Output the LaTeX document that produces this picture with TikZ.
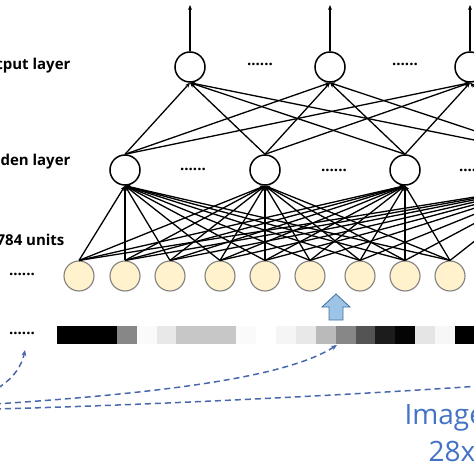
\documentclass[tikz,border=0pt]{standalone}
\usepackage{fontspec}
\setmainfont{Open Sans}
\usetikzlibrary{arrows.meta}
\definecolor{unitfill}{HTML}{FFF2CC}
\definecolor{unitdraw}{HTML}{808080}
\definecolor{arrfill}{HTML}{9DC3E6}
\definecolor{arrdraw}{HTML}{41719C}
\definecolor{linkblue}{HTML}{4A68AE}
\definecolor{textblue}{HTML}{4472C4}
\tikzset{
  neuron/.style={circle, draw=black, line width=1.5pt, fill=white, minimum size=30pt, inner sep=0pt},
  pixunit/.style={circle, draw=unitdraw, line width=1.1pt, fill=unitfill, minimum size=30pt, inner sep=0pt},
  wire/.style={line width=1.3pt, -{Stealth[length=5pt,width=4pt]}},
  blink/.style={linkblue, line width=1.5pt, dash pattern=on 6pt off 4pt, -{Stealth[length=6pt,width=5pt]}},
  layerlabel/.style={anchor=east, font=\bfseries\fontsize{15}{17}\selectfont},
  dots/.style={font=\bfseries\fontsize{15}{17}\selectfont}
}
\begin{document}
\begin{tikzpicture}[x=1pt,y=-1pt]
    \useasboundingbox (0,0) rectangle (474,474);
    \clip (0,0) rectangle (474,474);
    % labels on the left
    \node[layerlabel] (lout) at (74,66) {Output layer};
    \node[layerlabel] (lhid) at (74,162) {Hidden layer};
    \node[layerlabel] (lunits) at (68,240) {784 units};
    \node[dots] (idots) at (22,274) {......};
    \node[dots] (sdots) at (22,333) {......};
    % layers
    \foreach \x [count=\i] in {79,125,170,220,265,310,360,405,450}
        \node[pixunit] (in\i) at (\x,276) {};
    \foreach \x [count=\j] in {125,265,405,545}
        \node[neuron] (h\j) at (\x,170) {};
    \foreach \x [count=\k] in {190,330,470}{
        \node[neuron] (o\k) at (\x,67) {};
        \coordinate (top\k) at (\x,5);
        \draw[wire] (o\k.north) -- (top\k);
    }
    \node[dots] (hdots1) at (193,169) {......};
    \node[dots] (hdots2) at (334,170) {......};
    \node[dots] (hdots3) at (472,170) {......};
    \node[dots] (odots1) at (260,64) {......};
    \node[dots] (odots2) at (405,64) {......};
    % connections
    \foreach \i in {1,...,9}
        \foreach \j in {1,...,4}
            \draw[wire] (in\i.north) -- (h\j.south);
    \foreach \j in {1,...,4}
        \foreach \k in {1,2,3}
            \draw[wire] (h\j.north) -- (o\k.south);
    % pixel strip
    \foreach \s [count=\c from 0] in {100,100,100,47,2,9,22,22,22,2,0,4,9,27,47,67,89,98,10,3,100}
        \fill[black!\s] ({57+19.9*\c},326) rectangle ++(19.9,18);
    \filldraw[fill=arrfill, draw=arrdraw, line width=0.8pt] (329,320) -- (343,320) -- (343,307) -- (350,307) -- (336,294) -- (322,307) -- (329,307) -- cycle;
    % dashed links
    \coordinate (sdotsin) at (25,350);
    \coordinate (pixin) at (337,345);
    \draw[blink] (-2,388) .. controls (14,378) and (22,365) .. (sdotsin);
    \draw[blink] (-5,404) .. controls (180,392) and (290,375) .. (pixin);
    \draw[blink, -] (-5,409) .. controls (150,405) and (350,395) .. (480,386);
    \node[anchor=west, text=textblue, font=\fontsize{28}{32}\selectfont] (imgtitle) at (401,418) {Image};
    \node[anchor=west, text=textblue, font=\fontsize{28}{32}\selectfont] (imgsize) at (425,451) {28x28};
\end{tikzpicture}
\end{document}
